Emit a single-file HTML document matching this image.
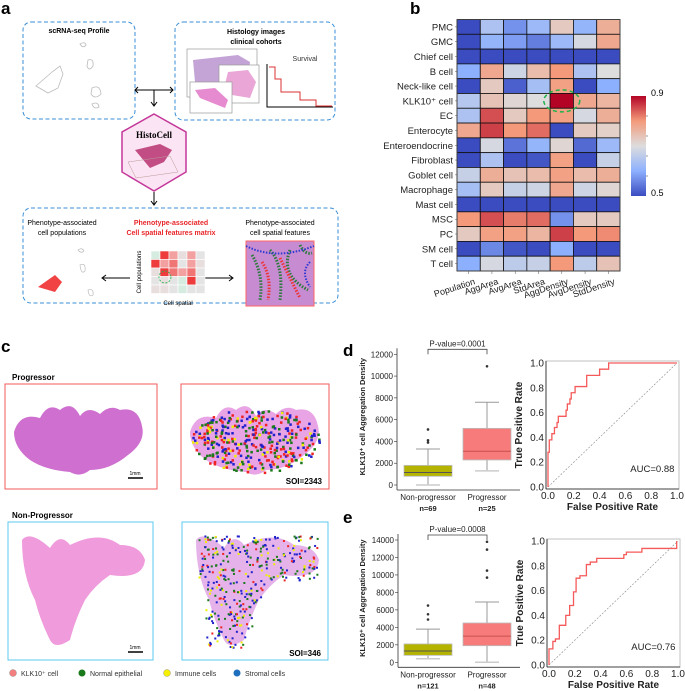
<!DOCTYPE html>
<html><head><meta charset="utf-8"><style>
html,body{margin:0;padding:0;background:#fff;}
svg{display:block;font-family:"Liberation Sans",Arial,sans-serif;}
</style></head><body>
<svg id="fig" width="685" height="691" viewBox="0 0 685 691" xmlns="http://www.w3.org/2000/svg">
<!-- PANEL A -->
<g>
<text x="1" y="14" font-size="17" font-weight="bold">a</text>
<rect x="23" y="22" width="112" height="97" rx="8" fill="none" stroke="#3a8fd6" stroke-width="1" stroke-dasharray="4,2.5"/>
<text x="79" y="33" font-size="7" font-weight="bold" text-anchor="middle">scRNA-seq Profile</text>
<g fill="none" stroke="#bbb" stroke-width="0.8">
<path d="M36,86 L52,72 L60,66 L63,74 L58,88 L48,93 Z"/><path d="M80,44 q5,-3 6,1 q-3,4 -6,-1z"/><path d="M88,60 q6,-2 5,6 q-4,6 -6,0z"/><path d="M92,88 q8,-4 9,6 q-6,6 -10,0z"/><path d="M92,104 q6,-3 7,3 q-5,3 -7,-3z"/>
</g>
<rect x="175" y="22" width="160" height="98" rx="8" fill="none" stroke="#3a8fd6" stroke-width="1" stroke-dasharray="4,2.5"/>
<text x="256" y="34" font-size="7" font-weight="bold" text-anchor="middle">Histology images</text>
<text x="256" y="44" font-size="7" font-weight="bold" text-anchor="middle">clinical cohorts</text>
<rect x="187" y="49" width="70" height="48" fill="#fff" stroke="#999" stroke-width="0.7"/>
<path d="M193,60 L238,55 L250,62 L248,82 L225,80 L210,88 L195,82 Z" fill="#b58ccc" opacity="0.8"/>
<rect x="219" y="65" width="40" height="38" fill="#fff" stroke="#999" stroke-width="0.7"/>
<path d="M228,72 L248,70 L256,82 L250,98 L232,95 L225,84 Z" fill="#e9a6d6"/>
<rect x="190" y="82" width="42" height="31" fill="#fff" stroke="#999" stroke-width="0.7"/>
<path d="M195,90 L215,88 L228,100 L225,108 L200,98 Z" fill="#e78bd0"/>
<text x="305" y="61" font-size="7" text-anchor="middle" fill="#333">Survival</text>
<path d="M267,64 V107 H333" fill="none" stroke="#000" stroke-width="1"/>
<path d="M269,67 H275 V79 H281 V92 H300 V100 H316 V106 H332" fill="none" stroke="#d33" stroke-width="1"/>
<path d="M135,90 H173 M154,90 V105" stroke="#000" stroke-width="1" fill="none"/>
<path d="M138,87 L135,90 L138,93 M170,87 L173,90 L170,93 M151,102 L154,106 L157,102" stroke="#000" stroke-width="1" fill="none"/>
<polygon points="154,114 186,132 186,172 154,191 122,172 122,132" fill="#fbe4f3" stroke="#c4379a" stroke-width="1.5"/>
<text x="154" y="138" font-size="9" font-weight="bold" text-anchor="middle" font-family="Liberation Serif,serif">HistoCell</text>
<path d="M135,150 L160,144 L172,150 L164,162 L150,168 Z" fill="#c24d84"/>
<path d="M128,162 L170,156 L178,172 L136,178 Z" fill="none" stroke="#b99" stroke-width="0.5"/>
<path d="M154,192 V204 M151,201 L154,205 L157,201" stroke="#000" stroke-width="1" fill="none"/>
<rect x="23" y="208" width="315" height="95" rx="8" fill="none" stroke="#3a8fd6" stroke-width="1" stroke-dasharray="4,2.5"/>
<text x="62" y="225" font-size="7" text-anchor="middle">Phenotype-associated</text>
<text x="62" y="235" font-size="7" text-anchor="middle">cell populations</text>
<text x="171" y="225" font-size="7" font-weight="bold" fill="#e8262a" text-anchor="middle">Phenotype-associated</text>
<text x="171" y="235" font-size="7" font-weight="bold" fill="#e8262a" text-anchor="middle">Cell spatial features matrix</text>
<text x="280" y="225" font-size="7" text-anchor="middle">Phenotype-associated</text>
<text x="280" y="235" font-size="7" text-anchor="middle">cell spatial features</text>
<path d="M38,287 L55,275 L62,282 L55,292 Z" fill="#e22" opacity="0.85"/>
<g fill="none" stroke="#bbb" stroke-width="0.7"><path d="M78,250 q4,-3 6,1 q-3,3 -6,-1z"/><path d="M80,265 q6,-3 5,6 q-4,4 -5,-6z"/><path d="M88,290 q6,-2 5,5 q-4,3 -5,-5z"/></g>
<path d="M130,278 H103 M106,275 L102,278 L106,281 M205,278 H232 M229,275 L233,278 L229,281" stroke="#000" stroke-width="1" fill="none"/>
<g id="mini-matrix"></g>
<text x="141" y="272" font-size="6" transform="rotate(-90 141 272)" text-anchor="middle">Cell populations</text>
<text x="178" y="305" font-size="6" text-anchor="middle">Cell spatial</text>
<rect x="246" y="241" width="68" height="65" fill="#c78bd2" stroke="#f66" stroke-width="1"/>
<path d="M252,255 q12,20 8,45 M270,250 q14,15 10,50 M290,250 q-10,25 18,40 M300,245 q5,10 12,8" stroke="#2a7a3a" stroke-width="3" fill="none" stroke-dasharray="1.5,1.5"/>
<path d="M262,262 q10,15 6,38 M280,258 q10,20 20,40" stroke="#e33" stroke-width="3" fill="none" stroke-dasharray="1.5,1.5"/>
<path d="M246,246 q30,15 68,0 M310,262 q-10,10 0,25" stroke="#2c3ad0" stroke-width="2" fill="none" stroke-dasharray="1.5,1.5"/>
</g>

<!-- PANEL B -->
<g>
<text x="410" y="14" font-size="17" font-weight="bold">b</text>
<g id="heatmap"></g>
<defs><linearGradient id="cbgrad" x1="0" y1="1" x2="0" y2="0">
<stop offset="0" stop-color="#3b4cc0"/><stop offset="0.25" stop-color="#8db0fe"/><stop offset="0.5" stop-color="#dddddd"/><stop offset="0.75" stop-color="#f49a7b"/><stop offset="1" stop-color="#b40426"/></linearGradient></defs>
<rect x="631" y="96" width="15" height="100" fill="url(#cbgrad)"/>
<text x="651" y="96" font-size="9">0.9</text>
<text x="651" y="196" font-size="9">0.5</text>
<g stroke="#555" stroke-width="0.6"><line x1="646" y1="116" x2="648" y2="116"/><line x1="646" y1="136" x2="648" y2="136"/><line x1="646" y1="156" x2="648" y2="156"/><line x1="646" y1="176" x2="648" y2="176"/></g>
</g>

<!-- PANEL C -->
<g>
<text x="1" y="352" font-size="17" font-weight="bold">c</text>
<text x="12" y="380" font-size="8" font-weight="bold">Progressor</text>
<rect x="5" y="384" width="152" height="105" fill="#fff" stroke="#f25a5a" stroke-width="1"/>
<rect x="181" y="384" width="148" height="105" fill="#fff" stroke="#f25a5a" stroke-width="1"/>
<text x="12" y="518" font-size="8" font-weight="bold">Non-Progressor</text>
<rect x="8" y="522" width="145" height="138" fill="#fff" stroke="#5bc8f0" stroke-width="1"/>
<rect x="182" y="522" width="146" height="138" fill="#fff" stroke="#5bc8f0" stroke-width="1"/>
<path d="M14,432 Q20,412 40,418 Q48,402 60,410 Q72,400 80,416 Q88,405 100,414 Q110,404 120,410 Q138,406 142,426 Q146,442 128,455 Q110,470 90,470 Q80,478 70,472 Q45,470 30,460 Q14,448 14,432 Z" fill="#cf6fcf"/>
<path d="M190,432 Q196,412 216,418 Q224,402 236,410 Q248,400 256,416 Q264,405 276,414 Q286,404 296,410 Q314,406 318,426 Q322,442 304,455 Q286,470 266,470 Q256,478 246,472 Q221,470 206,460 Q190,448 190,432 Z" fill="#e8a4e4"/>
<g id="dotsP"></g>
<path d="M22,540 Q30,530 50,548 Q60,532 70,545 Q100,530 120,545 Q140,545 145,560 Q143,580 110,575 Q95,585 85,600 Q75,620 70,640 Q55,650 50,640 Q40,620 35,600 Q22,575 22,540 Z" fill="#ef9bdc"/>
<path d="M196,540 Q204,530 224,548 Q234,532 244,545 Q274,530 294,545 Q314,545 319,560 Q317,580 284,575 Q269,585 259,600 Q249,620 244,640 Q229,650 224,640 Q214,620 209,600 Q196,575 196,540 Z" fill="#e5b3ea"/>
<g id="dotsN"></g>
<line x1="128" y1="478" x2="143" y2="478" stroke="#000" stroke-width="1.5"/><text x="135" y="475" font-size="5" text-anchor="middle">1mm</text>
<line x1="128" y1="652" x2="143" y2="652" stroke="#000" stroke-width="1.5"/><text x="135" y="649" font-size="5" text-anchor="middle">1mm</text>
<text x="322" y="484" font-size="8" font-weight="bold" text-anchor="end">SOI=2343</text>
<text x="321" y="656" font-size="8" font-weight="bold" text-anchor="end">SOI=346</text>
<g font-size="7" fill="#333">
<circle cx="13" cy="673" r="3.5" fill="#f47f7f" stroke="#888" stroke-width="0.4"/><text x="21" y="676">KLK10⁺ cell</text>
<circle cx="82" cy="673" r="3.5" fill="#1a7a1a"/><text x="90" y="676">Normal epithelial</text>
<circle cx="167" cy="673" r="3.5" fill="#f4f000" stroke="#888" stroke-width="0.4"/><text x="175" y="676">Immune cells</text>
<circle cx="237" cy="673" r="3.5" fill="#1f6fbf"/><text x="245" y="676">Stromal cells</text>
</g>
</g>

<!-- PANEL D / E -->
<text x="343" y="356" font-size="17" font-weight="bold">d</text>
<text x="343" y="523" font-size="17" font-weight="bold">e</text>
<g id="boxD"></g>
<g id="rocD"></g>
<g id="boxE"></g>
<g id="rocE"></g>
</svg>
<script>
// ---------- Heatmap data ----------
const hmRows = ["PMC","GMC","Chief cell","B cell","Neck-like cell","KLK10\u207A cell","EC","Enterocyte","Enteroendocrine","Fibroblast","Goblet cell","Macrophage","Mast cell","MSC","PC","SM cell","T cell"];
const hmCols = ["Population","AggArea","AvgArea","StdArea","AggDensity","AvgDensity","StdDensity"];
const hmVals = [
[0.50,0.64,0.57,0.62,0.73,0.61,0.77],
[0.50,0.61,0.58,0.55,0.62,0.69,0.78],
[0.50,0.50,0.50,0.50,0.50,0.50,0.50],
[0.60,0.78,0.68,0.75,0.80,0.64,0.70],
[0.50,0.73,0.52,0.63,0.79,0.50,0.60],
[0.65,0.74,0.71,0.70,0.90,0.78,0.76],
[0.64,0.85,0.73,0.80,0.79,0.69,0.77],
[0.78,0.86,0.80,0.83,0.50,0.73,0.72],
[0.50,0.69,0.54,0.61,0.71,0.53,0.62],
[0.50,0.64,0.50,0.51,0.79,0.50,0.67],
[0.67,0.77,0.74,0.75,0.79,0.75,0.77],
[0.63,0.73,0.67,0.68,0.78,0.68,0.71],
[0.50,0.50,0.50,0.50,0.50,0.50,0.50],
[0.80,0.85,0.82,0.83,0.57,0.73,0.73],
[0.73,0.79,0.79,0.76,0.86,0.80,0.81],
[0.50,0.56,0.51,0.50,0.60,0.50,0.50],
[0.60,0.69,0.66,0.67,0.80,0.66,0.74]];
const hmMin = 0.5, hmMax = 0.9;

// ---------- Box plot data ----------
const boxCats = ["Non-progressor","Progressor"];
const boxD_n = ["n=69","n=25"];
const boxD_stats = [[0,800,1150,1800,3300],[1300,2300,3100,5200,7600]]; // low,q1,med,q3,high
const boxD_out = [[3900,4100,5100],[10900]];
const boxD_ticks = [0,2000,4000,6000,8000,10000,12000];
const boxD_p = "P-value=0.0001";
const boxE_n = ["n=121","n=48"];
const boxE_stats = [[400,800,1300,2100,3800],[0,1900,3000,4500,6900]];
const boxE_out = [[4900,5500,6500],[9700,10500,12900,13800]];
const boxE_ticks = [0,2000,4000,6000,8000,10000,12000,14000];
const boxE_p = "P-value=0.0008";

// ---------- ROC data ----------
const rocD_fpr = [0,0,0.01,0.01,0.03,0.03,0.05,0.05,0.07,0.07,0.08,0.08,0.14,0.14,0.15,0.15,0.17,0.17,0.18,0.18,0.21,0.21,0.30,0.30,0.40,0.40,0.47,0.47,1.0];
const rocD_tpr = [0,0.28,0.28,0.38,0.38,0.43,0.43,0.48,0.48,0.52,0.52,0.57,0.57,0.62,0.62,0.67,0.67,0.71,0.71,0.76,0.76,0.81,0.81,0.90,0.90,0.95,0.95,1.0,1.0];
const rocD_auc = "AUC=0.88";
const rocE_fpr = [0,0,0.03,0.03,0.05,0.05,0.08,0.08,0.13,0.13,0.16,0.16,0.19,0.19,0.21,0.21,0.24,0.24,0.29,0.29,0.32,0.32,0.37,0.37,0.58,0.58,0.60,0.60,0.72,0.72,0.99,0.99];
const rocE_tpr = [0,0.13,0.13,0.19,0.19,0.21,0.21,0.32,0.32,0.40,0.40,0.48,0.48,0.59,0.59,0.70,0.70,0.72,0.72,0.81,0.81,0.83,0.83,0.86,0.86,0.89,0.89,0.91,0.91,0.94,0.94,1.0];
const rocE_auc = "AUC=0.76";
const rocTicks = [0,0.2,0.4,0.6,0.8,1.0];

const NS = "http://www.w3.org/2000/svg";
function mk(tag, attrs, parent){const e=document.createElementNS(NS,tag);for(const k in attrs)e.setAttribute(k,attrs[k]);parent.appendChild(e);return e;}
function coolwarm(t){
  const st=[[0,[59,76,192]],[0.25,[141,176,254]],[0.5,[221,221,221]],[0.75,[244,154,123]],[1,[180,4,38]]];
  t=Math.max(0,Math.min(1,t));
  for(let i=0;i<st.length-1;i++){if(t<=st[i+1][0]){const a=st[i],b=st[i+1],f=(t-a[0])/(b[0]-a[0]);return "rgb("+a[1].map((c,j)=>Math.round(c+(b[1][j]-c)*f)).join(",")+")";}}
  return "rgb(180,4,38)";
}

// Heatmap
(function(){
  const g=document.getElementById('heatmap');
  const x0=457,x1=620,y0=19.5,y1=271;
  const cw=(x1-x0)/hmCols.length, rh=(y1-y0)/hmRows.length;
  hmVals.forEach((row,i)=>{row.forEach((v,j)=>{
    const r=mk('rect',{x:x0+j*cw,y:y0+i*rh,width:cw,height:rh,fill:coolwarm((v-hmMin)/(hmMax-hmMin)),stroke:'#111','stroke-width':0.8},g);
    
    
  });
    const t=mk('text',{x:x0-4,y:y0+i*rh+rh/2+3.5,'font-size':9.5,'text-anchor':'end',fill:'#222'},g);t.textContent=hmRows[i];
    
    
    mk('line',{x1:x0-2,x2:x0,y1:y0+i*rh+rh/2,y2:y0+i*rh+rh/2,stroke:'#555','stroke-width':0.5},g);
  });
  mk('rect',{x:x0,y:y0,width:x1-x0,height:y1-y0,fill:'none',stroke:'#444','stroke-width':0.8},g);
  hmCols.forEach((c,j)=>{
    const cx=x0+j*cw+cw/2;
    mk('line',{x1:cx,x2:cx,y1:y1,y2:y1+3,stroke:'#555','stroke-width':0.5},g);
    const t=mk('text',{x:cx+7,y:y1+13,'font-size':9,'text-anchor':'end',fill:'#222',transform:'rotate(-18 '+(cx+7)+' '+(y1+13)+')'},g);t.textContent=c;
    
    
  });
  const hi=hmRows.indexOf("KLK10\u207A cell"), hj=hmCols.indexOf("AggDensity");
  mk('ellipse',{cx:x0+hj*cw+cw/2,cy:y0+hi*rh+rh/2,rx:18,ry:11,fill:'none',stroke:'#1db34a','stroke-width':1.5,'stroke-dasharray':'4,3'},g);
})();

// Mini matrix in panel a
(function(){
  const g=document.getElementById('mini-matrix');
  const m=[[0,1,2,3,2,5],[1,2,4,5,2,3],[3,1,4,2,4,5],[5,3,5,0,1,5],[3,3,5,0,5,5]];
  m.forEach((r,i)=>r.forEach((c,j)=>{
    const v=[ "#d7ece0","#ee3b3b","#f3a0a0","#e8dede","#f07676","#e4e4e4"][c];
    mk('rect',{x:151+j*9,y:251+i*8.5,width:9,height:8.5,fill:v,stroke:'#fff','stroke-width':0.6},g);
  }));
  mk('circle',{cx:165,cy:277,r:6,fill:'none',stroke:'#1db34a','stroke-width':0.8,'stroke-dasharray':'2,1.5'},g);
})();

// Tissue texture dots (decorative)
(function(){
  let s=7; function rnd(){s=(s*9301+49297)%233280;return s/233280;}
  const colsP=["#e22","#1a7a1a","#22c","#ee0","#e22","#1a7a1a","#22c"];
  const gp=document.getElementById('dotsP');
  for(let i=0;i<500;i++){const x=192+rnd()*128,y=410+rnd()*64;
    if(((x-255)/64)**2+((y-440)/32)**2>1)continue;
    mk('rect',{x:x,y:y,width:2.5,height:2.5,fill:colsP[Math.floor(rnd()*colsP.length)]},gp);}
  const colsN=["#22c","#22c","#1a7a1a","#1a7a1a","#22c","#e22","#ee0"];
  const gn=document.getElementById('dotsN');
  for(let i=0;i<600;i++){const x=196+rnd()*124,y=530+rnd()*118;
    const inTop=(y<580&&x>198&&x<318&&y>535), inStem=(y>=580&&x>205&&x<265-(y-580)*0.3);
    if(!(inTop||inStem))continue;
    mk('rect',{x:x,y:y,width:2,height:2,fill:colsN[Math.floor(rnd()*colsN.length)]},gn);}
})();

// Box plot
function boxPlot(id, stats, outs, ticks, nlab, ptxt, y0px, ypxPerUnit, axisX){
  const g=document.getElementById(id);
  const y=v=>y0px - v*ypxPerUnit;
  const cx=[428,487], bw=48, fills=["#b4b400","#f77b7b"];
  const yTop=y(ticks[ticks.length-1])-6;
  mk('line',{x1:axisX,x2:axisX,y1:yTop,y2:y(0)+5,stroke:'#333','stroke-width':0.8},g);
  mk('line',{x1:axisX,x2:520,y1:y(0)+5,y2:y(0)+5,stroke:'#333','stroke-width':0.8},g);
  ticks.forEach(t=>{
    mk('line',{x1:axisX-3,x2:axisX,y1:y(t),y2:y(t),stroke:'#333','stroke-width':0.6},g);
    const tx=mk('text',{x:axisX-4,y:y(t)+3,'font-size':8,'text-anchor':'end',fill:'#222'},g);tx.textContent=t;
    
    
  });
  stats.forEach((s,i)=>{
    mk('line',{x1:cx[i],x2:cx[i],y1:y(s[0]),y2:y(s[1]),stroke:'#999','stroke-width':1},g);
    mk('line',{x1:cx[i],x2:cx[i],y1:y(s[3]),y2:y(s[4]),stroke:'#999','stroke-width':1},g);
    mk('line',{x1:cx[i]-12,x2:cx[i]+12,y1:y(s[4]),y2:y(s[4]),stroke:'#999','stroke-width':1},g);
    mk('line',{x1:cx[i]-12,x2:cx[i]+12,y1:y(s[0]),y2:y(s[0]),stroke:'#ccc','stroke-width':1.5},g);
    const b=mk('rect',{x:cx[i]-bw/2,y:y(s[3]),width:bw,height:y(s[1])-y(s[3]),fill:fills[i],stroke:'#bbb','stroke-width':0.8},g);
    
    
    mk('line',{x1:cx[i]-bw/2,x2:cx[i]+bw/2,y1:y(s[2]),y2:y(s[2]),stroke:i?'#c85050':'#555','stroke-width':1},g);
    outs[i].forEach(o=>{
      const c=mk('circle',{cx:cx[i],cy:y(o),r:1.3,fill:'#333'},g);
      
      
    });
    const l=mk('text',{x:cx[i],y:y(0)+15,'font-size':8,'text-anchor':'middle',fill:'#222'},g);l.textContent=boxCats[i];
    
    
    const n=mk('text',{x:cx[i],y:y(0)+26,'font-size':7.5,'font-weight':'bold','text-anchor':'middle',fill:'#222'},g);n.textContent=nlab[i];
    
    
  });
  const by=yTop+1;
  mk('path',{d:`M${cx[0]},${by+5} V${by} H${cx[1]} V${by+5}`,fill:'none',stroke:'#444','stroke-width':0.8},g);
  const p=mk('text',{x:(cx[0]+cx[1])/2,y:by-3,'font-size':8,'text-anchor':'middle',fill:'#222'},g);p.textContent=ptxt;
  
  
  const ym=(yTop+y(0))/2, xl=365;
  const yl=mk('text',{x:xl,y:ym,'font-size':7.5,'font-weight':'bold','text-anchor':'middle',fill:'#222',transform:`rotate(-90 ${xl} ${ym})`},g);
  yl.textContent="KLK10\u207A cell Aggregation Density";
  
  
}
boxPlot('boxD',boxD_stats,boxD_out,boxD_ticks,boxD_n,boxD_p,485,(485-354.3)/12000,397);
boxPlot('boxE',boxE_stats,boxE_out,boxE_ticks,boxE_n,boxE_p,662.3,(662.3-540)/14000,398);

// ROC
function roc(id,fpr,tpr,auc,x0,x1,yb,yt){
  const g=document.getElementById(id);
  const X=v=>x0+v*(x1-x0), Y=v=>yb-v*(yb-yt);
  mk('rect',{x:X(0)-2,y:Y(1)-2,width:X(1)-X(0)+4,height:Y(0)-Y(1)+4,fill:'none',stroke:'#ccc','stroke-width':1.2},g);
  mk('line',{x1:X(0)-2,x2:X(1)+2,y1:Y(0)+2,y2:Y(0)+2,stroke:'#222','stroke-width':0.8},g);
  mk('line',{x1:X(0)-2,x2:X(0)-2,y1:Y(1)-2,y2:Y(0)+2,stroke:'#222','stroke-width':0.8},g);
  mk('line',{x1:X(0),y1:Y(0),x2:X(1),y2:Y(1),stroke:'#888','stroke-width':0.6,'stroke-dasharray':'2,1.5'},g);
  rocTicks.forEach(t=>{
    const a=mk('text',{x:X(t),y:Y(0)+12,'font-size':10,'text-anchor':'middle',fill:'#222'},g);a.textContent=t.toFixed(1);
    
    
    const b=mk('text',{x:X(0)-4,y:Y(t)+3.5,'font-size':10,'text-anchor':'end',fill:'#222'},g);b.textContent=t.toFixed(1);
    
    
  });
  const pl=mk('polyline',{points:fpr.map((f,i)=>X(f)+','+Y(tpr[i])).join(' '),fill:'none',stroke:'#f55a5a','stroke-width':1.3},g);
  
  
  const at=mk('text',{x:X(0.98),y:Y(0.12),'font-size':9.5,'text-anchor':'end',fill:'#222'},g);at.textContent=auc;
  
  
  const xt=mk('text',{x:(X(0)+X(1))/2,y:Y(0)+23,'font-size':10,'font-weight':'bold','text-anchor':'middle',fill:'#222'},g);xt.textContent="False Positive Rate";
  
  
  const ym=(Y(0)+Y(1))/2, xx=X(0)-26;
  const yt2=mk('text',{x:xx,y:ym,'font-size':10,'font-weight':'bold','text-anchor':'middle',fill:'#222',transform:`rotate(-90 ${xx} ${ym})`},g);yt2.textContent="True Positive Rate";
  
  
}
roc('rocD',rocD_fpr,rocD_tpr,rocD_auc,548,677,487,363);
roc('rocE',rocE_fpr,rocE_tpr,rocE_auc,549,678,665,541);
</script>
</body></html>
